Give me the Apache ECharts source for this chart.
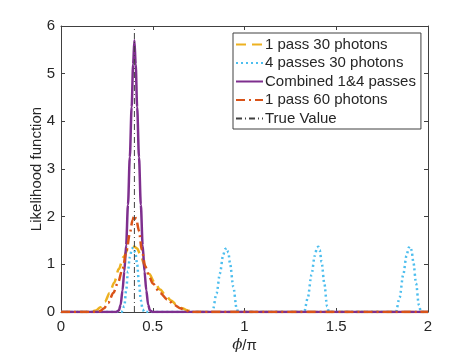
<!DOCTYPE html>
<html>
<head>
<meta charset="utf-8">
<script src="https://cdn.jsdelivr.net/npm/echarts@6/dist/echarts.min.js"></script>
<style>
html,body{margin:0;padding:0;background:#fff;}
#chart{width:474px;height:355px;}
</style>
</head>
<body>
<div id="chart"></div>
<script>
// ---- data ----
const seriesNames = ['1 pass 30 photons', '4 passes 30 photons', 'Combined 1&4 passes', '1 pass 60 photons', 'True Value'];
const xTickLabels = ['0', '0.5', '1', '1.5', '2'];
const yTickLabels = ['0', '1', '2', '3', '4', '5', '6'];

const pass1_30_phi = [0, 0.16, 0.19, 0.215, 0.24, 0.265, 0.29, 0.315, 0.34, 0.365, 0.385, 0.4, 0.415, 0.435, 0.455, 0.48, 0.51, 0.54, 0.57, 0.6, 0.63, 0.66, 0.69, 0.72, 2];
const pass1_30_val = [0, 0, 0.03, 0.1, 0.22, 0.4, 0.62, 0.9, 1.15, 1.32, 1.37, 1.37, 1.33, 1.18, 0.98, 0.8, 0.62, 0.47, 0.35, 0.24, 0.15, 0.08, 0.03, 0, 0];

const pass4_30_phi = [0, 0.33, 0.345, 0.355, 0.365, 0.375, 0.387, 0.395, 0.405, 0.415, 0.425, 0.435, 0.445, 0.455,
  0.825, 0.848, 0.866, 0.884, 0.895, 0.903, 0.912, 0.921, 0.939, 0.957, 0.965,
  1.325, 1.345, 1.365, 1.383, 1.395, 1.402, 1.41, 1.42, 1.435, 1.45, 1.46,
  1.825, 1.845, 1.865, 1.883, 1.895, 1.902, 1.91, 1.92, 1.935, 1.95, 1.962, 2];
const pass4_30_val = [0, 0, 0.12, 0.45, 0.85, 1.15, 1.33, 1.35, 1.25, 1.0, 0.6, 0.25, 0.05, 0,
  0, 0.39, 0.81, 1.2, 1.32, 1.34, 1.25, 1.02, 0.53, 0.08, 0,
  0, 0.3, 0.78, 1.18, 1.35, 1.37, 1.3, 1.05, 0.6, 0.12, 0,
  0, 0.3, 0.78, 1.18, 1.35, 1.37, 1.3, 1.05, 0.6, 0.15, 0, 0];

const combined_phi = [0, 0.3, 0.315, 0.325, 0.335, 0.345, 0.355, 0.365, 0.375, 0.385, 0.393, 0.4, 0.407, 0.415, 0.425, 0.435, 0.445, 0.455, 0.465, 0.475, 0.485, 0.5, 2];
const combined_val = [0, 0, 0.03, 0.15, 0.45, 0.85, 1.4, 2.25, 3.25, 4.3, 5.2, 5.7, 5.2, 4.3, 3.25, 2.25, 1.4, 0.85, 0.45, 0.15, 0.03, 0, 0];

const pass1_60_phi = [0, 0.2, 0.213, 0.235, 0.257, 0.285, 0.31, 0.335, 0.358, 0.375, 0.39, 0.4, 0.41, 0.425, 0.44, 0.46, 0.48, 0.5, 0.54, 0.58, 0.62, 0.65, 0.675, 0.7, 0.72, 2];
const pass1_60_val = [0, 0, 0.02, 0.08, 0.19, 0.4, 0.61, 0.9, 1.3, 1.65, 1.93, 2.03, 1.95, 1.7, 1.3, 0.95, 0.75, 0.6, 0.4, 0.26, 0.14, 0.08, 0.04, 0.01, 0, 0];

const trueValue_phi = [0.4, 0.4];
const trueValue_val = [0, 6];

function pairs(xs, ys) { return xs.map((x, i) => [x, ys[i]]); }

const axisColor = '#404040';
const textColor = '#262626';
const fontFamily = 'Liberation Sans, Arial, Helvetica, sans-serif';

const chart = echarts.init(document.getElementById('chart'), null, {renderer: 'canvas'});

function mkX(pos, showLabel) {
  return {
    type: 'value', position: pos, min: 0, max: 2, interval: 0.5,
    axisLine: {show: true, onZero: false, lineStyle: {color: axisColor, width: 1}},
    axisTick: {show: true, inside: true, length: 4, lineStyle: {color: axisColor}},
    axisLabel: {show: showLabel, color: textColor, fontSize: 15, fontFamily: fontFamily, margin: 7,
      formatter: (v) => xTickLabels[Math.round(v / 0.5)]},
    splitLine: {show: false}
  };
}
function mkY(pos, showLabel) {
  return {
    type: 'value', position: pos, min: 0, max: 6, interval: 1,
    axisLine: {show: true, onZero: false, lineStyle: {color: axisColor, width: 1}},
    axisTick: {show: true, inside: true, length: 4, lineStyle: {color: axisColor}},
    axisLabel: {show: showLabel, color: textColor, fontSize: 15, fontFamily: fontFamily, margin: 6,
      formatter: (v) => yTickLabels[Math.round(v)]},
    splitLine: {show: false}
  };
}

const xMain = mkX('bottom', true);
xMain.name = '{i|ϕ}/π';
xMain.nameLocation = 'middle';
xMain.nameGap = 26;
xMain.nameMoveOverlap = false;
xMain.nameTextStyle = {color: textColor, fontSize: 15, fontFamily: fontFamily,
  rich: {i: {fontStyle: 'italic', fontSize: 15, fontFamily: 'DejaVu Serif, serif', color: textColor}}};
const yMain = mkY('left', true);
yMain.name = 'Likelihood function';
yMain.nameLocation = 'middle';
yMain.nameGap = 17;
yMain.nameMoveOverlap = false;
yMain.nameTextStyle = {color: textColor, fontSize: 15, fontFamily: fontFamily};

function lineSeries(name, data, color, width, type, z) {
  return {
    name: name, type: 'line', data: data, xAxisIndex: 0, yAxisIndex: 0,
    symbol: 'none', showSymbol: false, smooth: 0.3, smoothMonotone: 'x',
    lineStyle: {color: color, width: width, type: type, cap: 'butt'},
    itemStyle: {color: color}, z: z, animation: false
  };
}

const option = {
  animation: false,
  backgroundColor: '#ffffff',
  grid: {left: 61, right: 46, top: 26, bottom: 43, containLabel: false, outerBoundsMode: 'none'},
  xAxis: [xMain, mkX('top', false)],
  yAxis: [yMain, mkY('right', false)],
  legend: {
    data: seriesNames,
    orient: 'vertical',
    left: 233, top: 33,
    backgroundColor: '#ffffff',
    borderColor: '#404040', borderWidth: 1, borderRadius: 0,
    padding: [4, 5, 3, 2],
    itemWidth: 27, itemHeight: 15, itemGap: 3.5,
    itemStyle: {opacity: 0},
    textStyle: {color: textColor, fontSize: 15, fontFamily: fontFamily, lineHeight: 15, padding: [0, 0, 0, -3]}
  },
  series: [
    lineSeries(seriesNames[0], pairs(pass1_30_phi, pass1_30_val), '#EDB120', 2.5, [10, 6], 2),
    lineSeries(seriesNames[1], pairs(pass4_30_phi, pass4_30_val), '#4DBEEE', 2.5, [2, 3], 3),
    lineSeries(seriesNames[2], pairs(combined_phi, combined_val), '#7E2F8E', 2.5, 'solid', 4),
    lineSeries(seriesNames[3], pairs(pass1_60_phi, pass1_60_val), '#D95319', 2.5, [9, 4, 2, 4], 5),
    Object.assign(lineSeries(seriesNames[4], pairs(trueValue_phi, trueValue_val), '#404040', 1, [6, 3, 1, 3], 6), {smooth: false})
  ]
};
chart.setOption(option);
</script>
</body>
</html>
